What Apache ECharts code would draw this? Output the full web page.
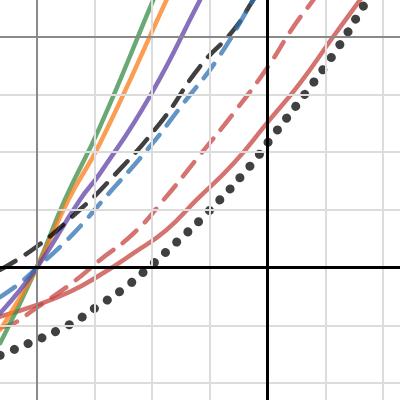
<!DOCTYPE html><html><head><meta charset="utf-8"><script src="https://cdn.jsdelivr.net/npm/echarts@6/dist/echarts.min.js"></script>
<style>html,body{margin:0;padding:0;background:#fff}#c{width:400px;height:400px}</style></head><body><div id="c"></div><script>
var blackDotted=[[-4.63,-1.52],[-4.48,-1.46],[-3.45,-1.0],[-2.97,-0.69],[-2.51,-0.38],[-2.09,-0.03],[-1.66,0.36],[-1.05,0.94],[-0.30,1.76],[0.04,2.21],[0.72,3.10],[1.20,3.78],[1.65,4.51],[1.75,4.7]];
var redSolid=[[-4.63,-0.85],[-4.0,-0.65],[-3.42,-0.42],[-2.9,-0.13],[-2.32,0.25],[-1.75,0.65],[-1.23,1.17],[-0.59,1.80],[-0.01,2.50],[0.56,3.19],[1.14,4.0],[1.60,4.63],[1.65,4.7]];
var redDashed=[[-4.63,-1.04],[-4.4,-0.97],[-4.06,-0.74],[-3.36,-0.25],[-2.9,0.13],[-2.32,0.59],[-1.80,1.17],[-1.17,1.95],[-0.59,2.67],[-0.01,3.45],[0.45,4.17],[0.79,4.63],[0.85,4.72]];
var blueDashed=[[-4.63,-0.51],[-4.29,-0.27],[-4.0,-0.01],[-3.59,0.36],[-3.19,0.77],[-2.9,1.11],[-2.04,2.09],[-1.46,2.84],[-0.88,3.59],[-0.25,4.63],[-0.2,4.72]];
var blackDashed=[[-4.63,-0.04],[-4.0,0.36],[-3.25,1.0],[-2.78,1.46],[-1.86,2.50],[-1.17,3.48],[-0.59,4.11],[-0.25,4.63],[-0.2,4.72]];
var purple=[[-4.63,-0.79],[-4.0,-0.01],[-3.25,1.17],[-2.9,1.63],[-2.04,2.96],[-1.17,4.63],[-1.12,4.72]];
var orange=[[-4.63,-1.08],[-4.0,-0.01],[-3.45,1.17],[-2.9,2.15],[-1.75,4.63],[-1.71,4.72]];
var green=[[-4.63,-1.31],[-4.0,-0.01],[-3.51,1.17],[-2.9,2.44],[-1.98,4.63],[-1.94,4.72]];
var minorX=[-3,-2,-1,1,2], majorX=[-4], minorY=[-2,-1,1,2,3], majorY=[4];

function ml(xs,ys,color,w){var d=[];xs.forEach(function(v){d.push({xAxis:v})});ys.forEach(function(v){d.push({yAxis:v})});
return {type:'line',data:[],markLine:{silent:true,symbol:'none',label:{show:false},animation:false,lineStyle:{color:color,width:w,type:'solid'},data:d}};}
function s(data,color,type,w,z){return {type:'line',data:data,smooth:true,showSymbol:false,z:z||3,lineStyle:{color:color,width:w,type:type,cap:'round',opacity:0.75}};}
var chart=echarts.init(document.getElementById('c'));
chart.setOption({animation:false,grid:{left:0,right:0,top:0,bottom:0},
xAxis:{type:'value',min:-4.632,max:2.294,splitLine:{show:false},axisLine:{show:false},axisTick:{show:false},axisLabel:{show:false}},
yAxis:{type:'value',min:-2.294,max:4.632,splitLine:{show:false},axisLine:{show:false},axisTick:{show:false},axisLabel:{show:false}},
series:[ml(minorX,minorY,'#dcdcdc',2),ml(majorX,majorY,'#8a8a8a',2),ml([0],[0],'#000',3),
s(redSolid,'#c74440','solid',4.5),s(redDashed,'#c74440',[18,12],4.5),
s(green,'#388c46','solid',4.5),s(orange,'#fa7e19','solid',4.5),s(purple,'#6042a6','solid',4.5),
s(blackDashed,'#000','dashed',4.5).lineStyle?Object.assign(s(blackDashed,'#000',[18,12],4.5)):null,
s(blueDashed,'#2d70b3',[18,12],4.5),
s(blackDotted,'#000',[0.1,15],9)]});
</script></body></html>
